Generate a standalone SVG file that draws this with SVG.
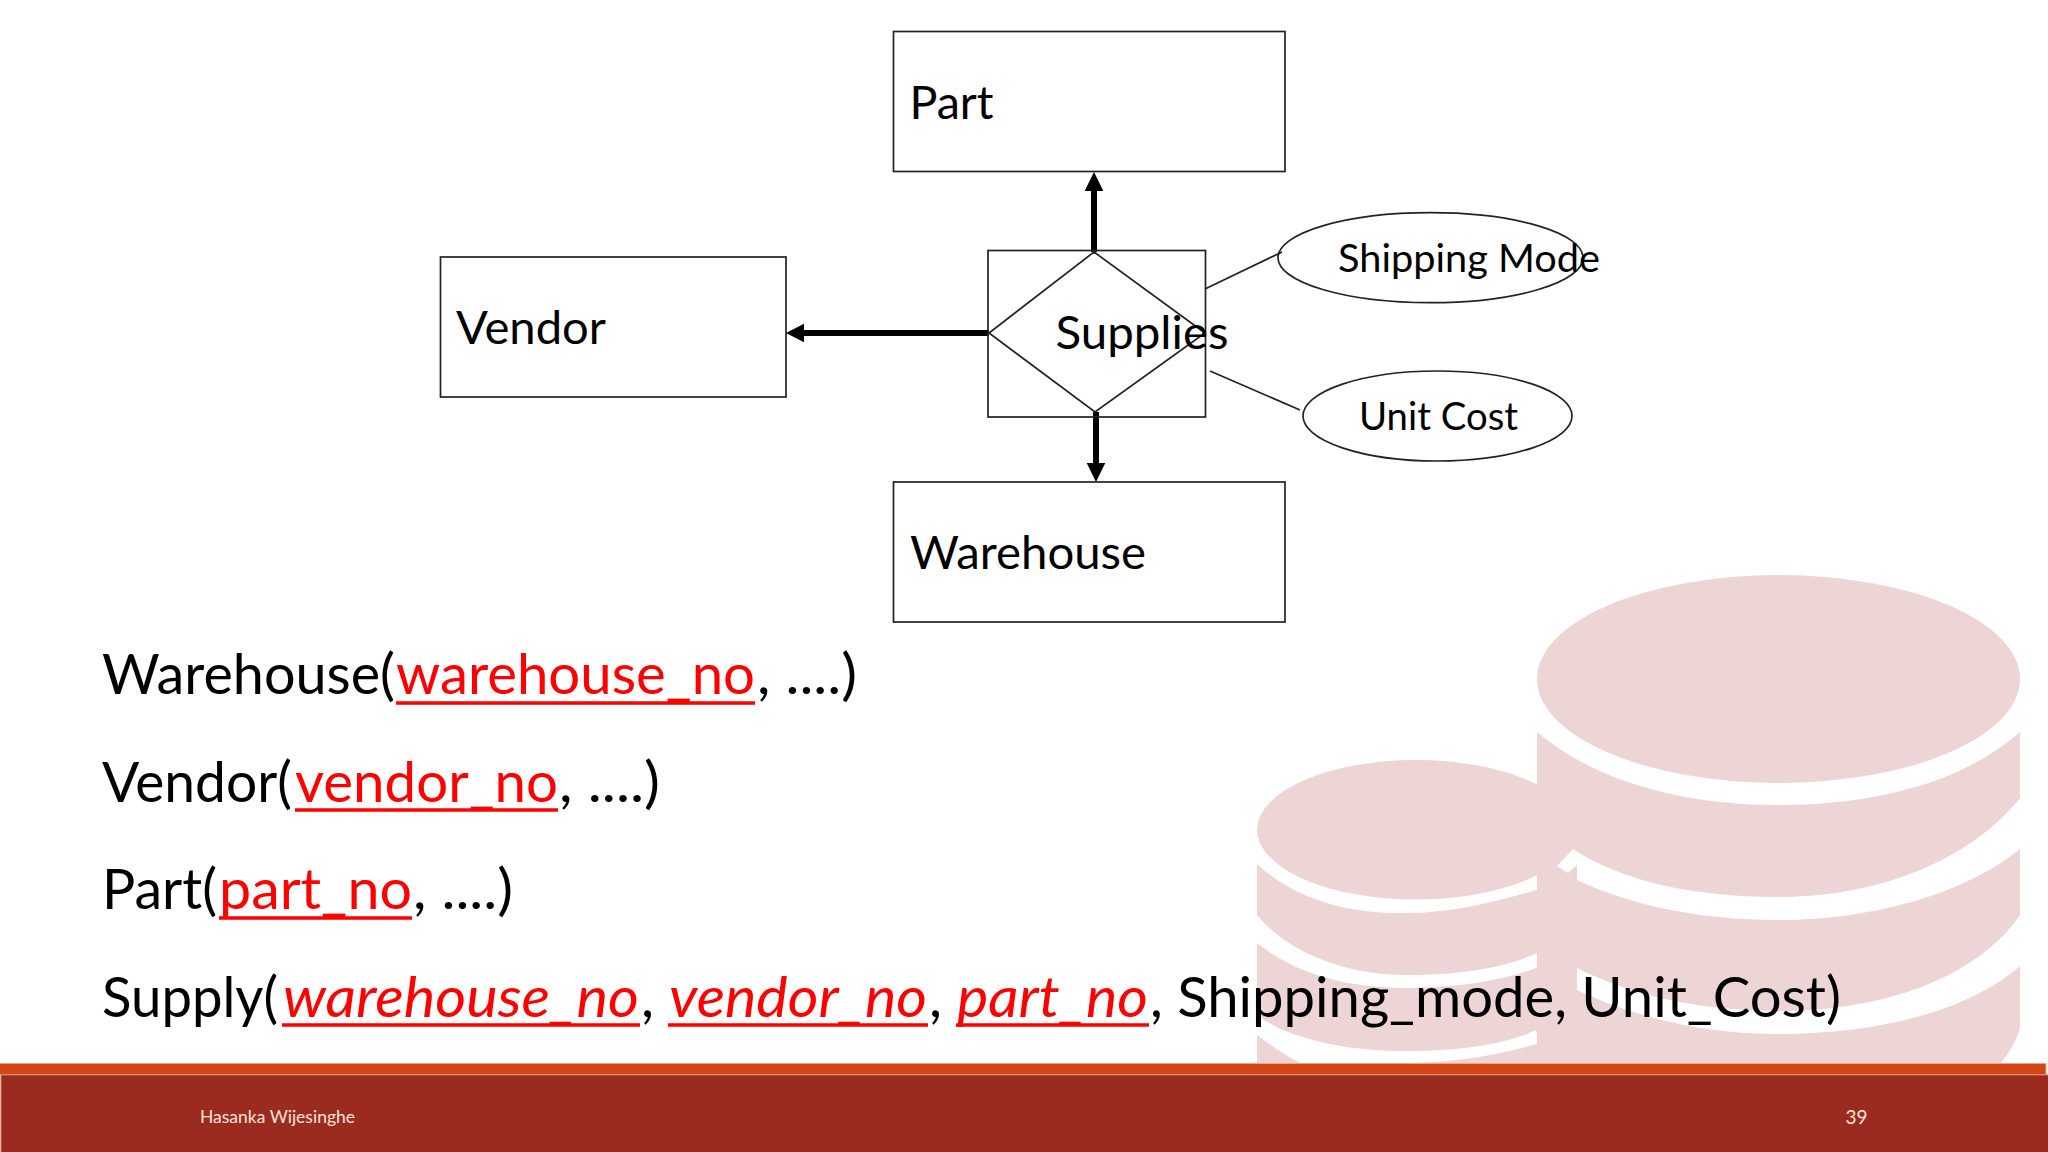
<svg xmlns="http://www.w3.org/2000/svg" width="2048" height="1152" viewBox="0 0 2048 1152">
<style>
text{font-family:"Lato","Carlito","Open Sans",sans-serif;fill:#000}
.shape{fill:none;stroke:#222;stroke-width:1.7}
.er{font-size:46px}
.attr{font-size:39px}
.rel{font-size:57px}
.key{fill:#f00}
.ul{stroke:#f00;stroke-width:3.4;fill:none}
.thin{stroke:#222;stroke-width:1.7;fill:none}
.thick{stroke:#000;stroke-width:6;fill:none}
.pink{fill:#ecd5d4}
.gap{fill:#fff}
</style>
<rect width="2048" height="1152" fill="#fff"/>
<g id="background-cylinders">
<ellipse class="pink" cx="1416" cy="830" rx="159" ry="70"/>
<rect class="pink" x="1257" y="830" width="300" height="234"/>
<path class="gap" d="M1257,830A159,70 0 0 0 1537,875L1537,890C1480,905 1450,913 1400,913C1340,913 1290,895 1257,864Z"/>
<path class="gap" d="M1257,915C1290,955 1350,975 1405,975C1470,975 1520,965 1552,945L1562,956C1520,980 1460,988 1405,988C1340,988 1290,970 1257,943Z"/>
<path class="gap" d="M1257,1015C1290,1040 1350,1051 1405,1051C1470,1051 1510,1042 1536,1030L1540,1043C1500,1055 1450,1063 1405,1063L1300,1063C1285,1055 1270,1045 1257,1035Z"/>
<ellipse class="pink" cx="1778.5" cy="679" rx="241.5" ry="104"/>
<rect class="pink" x="1537" y="679" width="483" height="385"/>
<path class="gap" d="M1537,679A241.5,104 0 0 0 2020,679L2020,732C1960,785 1870,805 1778,805C1690,805 1600,785 1537,732Z"/>
<path class="gap" d="M2020,798C1970,860 1880,897 1778,897C1690,897 1620,880 1573,849L1557,866L1568,873L1577,865L1577,880C1630,905 1700,920 1778,920C1880,920 1970,890 2020,849Z"/>
<path class="gap" d="M2020,915C1975,980 1880,1011 1778,1011C1700,1011 1630,995 1577,968L1577,990C1640,1020 1710,1034 1778,1034C1880,1034 1970,1010 2020,966Z"/>
<path class="gap" d="M2020,1028Q2014,1048 2000,1064L2021,1064Z"/>
</g>
<g id="part"><rect class="shape" x="893.5" y="31.5" width="391.500" height="140"/><text class="er" x="909.500" y="119" textLength="84" lengthAdjust="spacingAndGlyphs">Part</text></g>
<g id="vendor"><rect class="shape" x="440.500" y="257" width="345.500" height="140"/><text class="er" x="456" y="344" textLength="150" lengthAdjust="spacingAndGlyphs">Vendor</text></g>
<g id="warehouse"><rect class="shape" x="893.5" y="482" width="391.500" height="140"/><text class="er" x="910" y="569" textLength="236" lengthAdjust="spacingAndGlyphs">Warehouse</text></g>
<g id="connectors">
<path class="thick" d="M1094,252V188"/><path d="M1094,172L1103.300,191H1084.700Z"/>
<path class="thick" d="M1096,412V466"/><path d="M1096,482L1105.300,463H1086.700Z"/>
<path class="thick" d="M989,333H802"/><path d="M786,333L804,323.700V342.300Z"/>
<path class="thin" d="M1205,289L1282,252"/>
<path class="thin" d="M1210,371L1300,410"/>
</g>
<g id="supplies"><rect class="shape" x="988" y="250.500" width="217.500" height="166.500"/><path class="shape" d="M1094,252L1205,333L1095,412L989,333Z"/><text class="er" x="1055.500" y="349" textLength="173" lengthAdjust="spacingAndGlyphs">Supplies</text></g>
<g id="shipping-mode"><ellipse class="shape" cx="1430.500" cy="257.700" rx="152.500" ry="45"/><text class="attr" x="1338" y="272" textLength="262" lengthAdjust="spacingAndGlyphs">Shipping Mode</text></g>
<g id="unit-cost"><ellipse class="shape" cx="1437.500" cy="416" rx="134.500" ry="45"/><text class="attr" x="1359" y="430" textLength="159" lengthAdjust="spacingAndGlyphs">Unit Cost</text></g>
<g id="schema">
<text class="rel" y="694"><tspan x="102" textLength="293" lengthAdjust="spacingAndGlyphs">Warehouse(</tspan><tspan class="key" x="396" textLength="359" lengthAdjust="spacingAndGlyphs">warehouse_no</tspan><tspan x="757" textLength="100" lengthAdjust="spacingAndGlyphs">, ....)</tspan></text>
<path class="ul" d="M396,703H755"/>
<text class="rel" y="802"><tspan x="102" textLength="190" lengthAdjust="spacingAndGlyphs">Vendor(</tspan><tspan class="key" x="295" textLength="263" lengthAdjust="spacingAndGlyphs">vendor_no</tspan><tspan x="559" textLength="101" lengthAdjust="spacingAndGlyphs">, ....)</tspan></text>
<path class="ul" d="M295,810H558"/>
<text class="rel" y="909"><tspan x="102" textLength="115" lengthAdjust="spacingAndGlyphs">Part(</tspan><tspan class="key" x="219" textLength="193" lengthAdjust="spacingAndGlyphs">part_no</tspan><tspan x="413" textLength="100" lengthAdjust="spacingAndGlyphs">, ....)</tspan></text>
<path class="ul" d="M219,918H412"/>
<text class="rel" y="1017"><tspan x="102" textLength="176" lengthAdjust="spacingAndGlyphs">Supply(</tspan><tspan class="key" font-style="italic" x="283" textLength="356" lengthAdjust="spacingAndGlyphs">warehouse_no</tspan><tspan x="641" textLength="12">,</tspan><tspan class="key" font-style="italic" x="669" textLength="258" lengthAdjust="spacingAndGlyphs">vendor_no</tspan><tspan x="929" textLength="12">,</tspan><tspan class="key" font-style="italic" x="957" textLength="191" lengthAdjust="spacingAndGlyphs">part_no</tspan><tspan x="1150" textLength="691" lengthAdjust="spacingAndGlyphs">, Shipping_mode, Unit_Cost)</tspan></text>
<path class="ul" d="M282,1025H640M668,1025H928M956,1025H1149"/>
</g>
<g id="footer">
<rect x="-1" y="1063.500" width="2047" height="11" fill="#d24616" stroke="#eda585" stroke-width="1"/>
<rect x="1" y="1075" width="2049" height="79" fill="#9c2b1f" stroke="#c9725f" stroke-width="1"/>
<text x="200" y="1122.500" font-size="17" textLength="155" lengthAdjust="spacingAndGlyphs" style="fill:#fbe3dc">Hasanka Wijesinghe</text>
<text x="1845.500" y="1124" font-size="20" textLength="22" lengthAdjust="spacingAndGlyphs" style="fill:#fbe3dc">39</text>
</g>
</svg>
